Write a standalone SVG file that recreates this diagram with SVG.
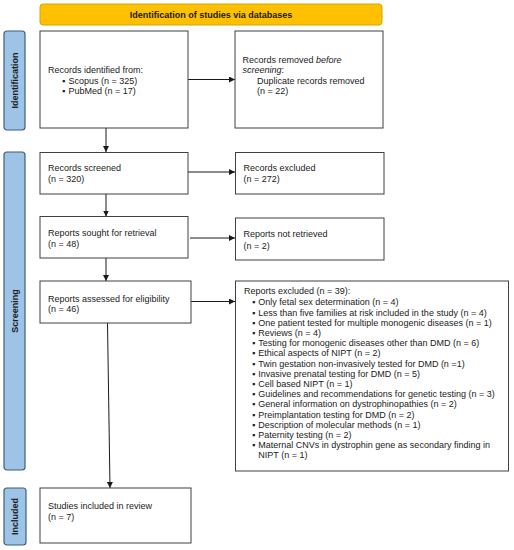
<svg xmlns="http://www.w3.org/2000/svg" width="514" height="550" viewBox="0 0 514 550">
<style>
text{font-family:"Liberation Sans",Arial,sans-serif;font-size:9px;fill:#1a1a1a}
.box{fill:#fff;stroke:#404040;stroke-width:1}
.side{fill:#9dc3e6;stroke:#3f5f7f;stroke-width:1.2}
.sidet{font-weight:bold;font-size:9px;text-anchor:middle;fill:#1a1a1a}
.conn{stroke:#1a1a1a;stroke-width:1;fill:none}
</style>
<defs>
<marker id="ah" viewBox="0 0 10 10" refX="10" refY="5" markerWidth="6" markerHeight="6" markerUnits="userSpaceOnUse" orient="auto">
<path d="M0,0 L10,5 L0,10 z" fill="#1a1a1a"/>
</marker>
</defs>
<rect width="514" height="550" fill="#fff"/>

<g id="banner">
<rect x="40" y="4" width="342" height="21" rx="3" fill="#ffc000" stroke="#d9a300" stroke-width="1"/>
<text x="211" y="17.5" text-anchor="middle" font-weight="bold">Identification of studies via databases</text>
</g>

<g id="lbl-identification">
<rect class="side" x="4" y="31" width="21" height="99" rx="3"/>
<text class="sidet" transform="translate(17.5,80.5) rotate(-90)">Identification</text>
</g>
<g id="lbl-screening">
<rect class="side" x="4" y="152" width="21" height="318" rx="3"/>
<text class="sidet" transform="translate(17.5,311) rotate(-90)">Screening</text>
</g>
<g id="lbl-included">
<rect class="side" x="4" y="488" width="22" height="57" rx="3"/>
<text class="sidet" transform="translate(18,516.5) rotate(-90)">Included</text>
</g>

<g id="connectors">
<line class="conn" x1="188" y1="79.5" x2="235" y2="79.5" marker-end="url(#ah)"/>
<line class="conn" x1="106" y1="128" x2="106" y2="152" marker-end="url(#ah)"/>
<line class="conn" x1="188" y1="172" x2="235" y2="172" marker-end="url(#ah)"/>
<line class="conn" x1="106" y1="194" x2="106" y2="216.5" marker-end="url(#ah)"/>
<line class="conn" x1="190" y1="238" x2="235" y2="238" marker-end="url(#ah)"/>
<line class="conn" x1="106" y1="258" x2="106" y2="281" marker-end="url(#ah)"/>
<line class="conn" x1="191" y1="301.5" x2="235" y2="301.5" marker-end="url(#ah)"/>
<line class="conn" x1="107.5" y1="323" x2="110" y2="488" marker-end="url(#ah)"/>
</g>

<g id="n-identified">
<rect class="box" x="40" y="31" width="148" height="97"/>
<text x="48" y="73">Records identified from:</text>
<text x="62" y="83.5">▪</text><text x="68.5" y="83.5">Scopus (n = 325)</text>
<text x="62" y="94">▪</text><text x="68.5" y="94">PubMed (n = 17)</text>
</g>

<g id="n-removed">
<rect class="box" x="235" y="31" width="148" height="97"/>
<text x="242.5" y="63">Records removed <tspan font-style="italic">before</tspan></text>
<text x="242.5" y="73.3" font-style="italic">screening<tspan font-style="normal">:</tspan></text>
<text x="257" y="83.5">Duplicate records removed</text>
<text x="257" y="94">(n = 22)</text>
</g>

<g id="n-screened">
<rect class="box" x="40" y="152.5" width="148" height="41.5"/>
<text x="48" y="170.5">Records screened</text>
<text x="48" y="181.5">(n = 320)</text>
</g>

<g id="n-excluded">
<rect class="box" x="235.5" y="152.5" width="148.5" height="41.5"/>
<text x="243.5" y="170.5">Records excluded</text>
<text x="243.5" y="181.5">(n = 272)</text>
</g>

<g id="n-sought">
<rect class="box" x="40" y="216.5" width="148" height="41.5"/>
<text x="48" y="235.5">Reports sought for retrieval</text>
<text x="48" y="246.5">(n = 48)</text>
</g>

<g id="n-notretrieved">
<rect class="box" x="235.5" y="218" width="148.5" height="42"/>
<text x="243.5" y="237">Reports not retrieved</text>
<text x="243.5" y="248.5">(n = 2)</text>
</g>

<g id="n-assessed">
<rect class="box" x="40" y="281" width="151" height="42"/>
<text x="48" y="301.5">Reports assessed for eligibility</text>
<text x="48" y="312">(n = 46)</text>
</g>

<g id="n-reportsexcluded">
<rect class="box" x="235.5" y="281" width="273" height="190"/>
<text x="244" y="294">Reports excluded (n = 39):</text>
<g>
<text x="252" y="305.3">▪</text><text x="258.3" y="305.3">Only fetal sex determination (n = 4)</text>
<text x="252" y="315.5">▪</text><text x="258.3" y="315.5">Less than five families at risk included in the study (n = 4)</text>
<text x="252" y="325.7">▪</text><text x="258.3" y="325.7">One patient tested for multiple monogenic diseases (n = 1)</text>
<text x="252" y="335.9">▪</text><text x="258.3" y="335.9">Reviews (n = 4)</text>
<text x="252" y="346.1">▪</text><text x="258.3" y="346.1">Testing for monogenic diseases other than DMD (n = 6)</text>
<text x="252" y="356.3">▪</text><text x="258.3" y="356.3">Ethical aspects of NIPT (n = 2)</text>
<text x="252" y="366.5">▪</text><text x="258.3" y="366.5">Twin gestation non-invasively tested for DMD (n =1)</text>
<text x="252" y="376.7">▪</text><text x="258.3" y="376.7">Invasive prenatal testing for DMD (n = 5)</text>
<text x="252" y="386.9">▪</text><text x="258.3" y="386.9">Cell based NIPT (n = 1)</text>
<text x="252" y="397.1">▪</text><text x="258.3" y="397.1">Guidelines and recommendations for genetic testing (n = 3)</text>
<text x="252" y="407.3">▪</text><text x="258.3" y="407.3">General information on dystrophinopathies (n = 2)</text>
<text x="252" y="417.5">▪</text><text x="258.3" y="417.5">Preimplantation testing for DMD (n = 2)</text>
<text x="252" y="427.7">▪</text><text x="258.3" y="427.7">Description of molecular methods (n = 1)</text>
<text x="252" y="437.9">▪</text><text x="258.3" y="437.9">Paternity testing (n = 2)</text>
<text x="252" y="448.1">▪</text><text x="258.3" y="448.1">Maternal CNVs in dystrophin gene as secondary finding in</text>
<text x="258.3" y="458.3">NIPT (n = 1)</text>
</g>
</g>

<g id="n-included">
<rect class="box" x="40" y="488" width="151" height="55"/>
<text x="48" y="509">Studies included in review</text>
<text x="48" y="520">(n = 7)</text>
</g>
</svg>
